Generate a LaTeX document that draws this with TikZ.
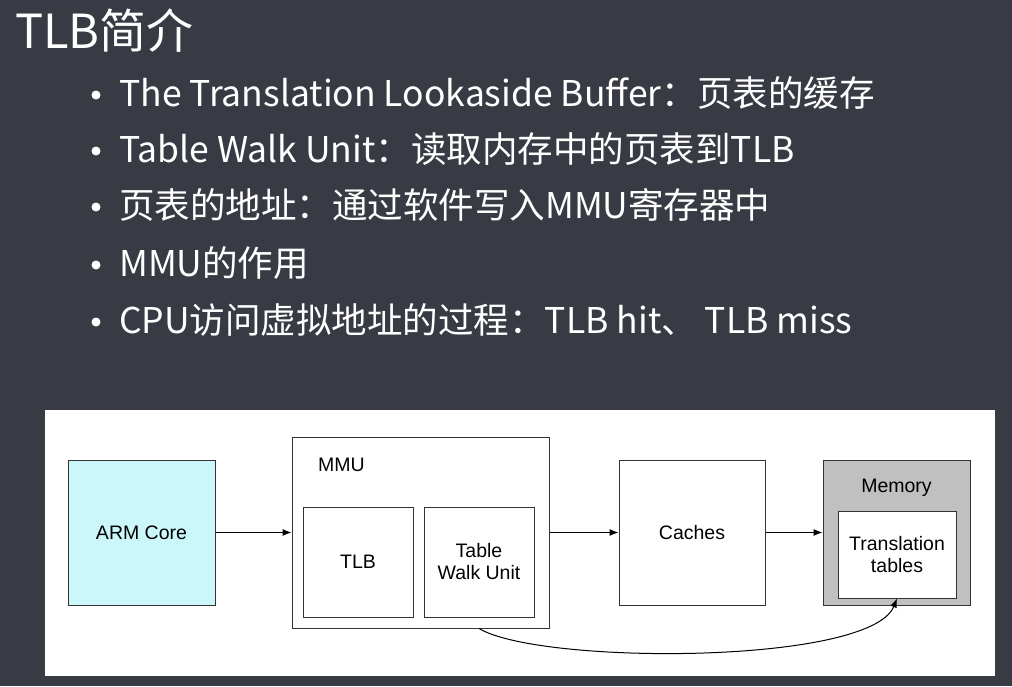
\documentclass[tikz,border=0pt]{standalone}
\usepackage{fontspec}
\setmainfont{Noto Sans CJK SC}
\newfontfamily\diagfont{Liberation Sans}
\usetikzlibrary{positioning,arrows.meta}
\definecolor{slidebg}{HTML}{383B43}
\definecolor{armcyan}{HTML}{CCF7FA}
\definecolor{memgray}{HTML}{C0C0C0}
\begin{document}
\begin{tikzpicture}[x=1pt,y=-1pt,
  bullet/.style={anchor=base west,text=white,font=\fontsize{35.5}{35.5}\selectfont,inner sep=0pt},
  block/.style={draw=black!80,line width=1pt,inner sep=0pt,align=center,font=\diagfont\fontsize{19.5}{22}\selectfont},
  conn/.style={-{Latex[length=9pt,width=7pt]},line width=1pt}]
\useasboundingbox (0,0) rectangle (1012,686);
\fill[slidebg] (0,0) rectangle (1012,686);
% title and bullets
\node[bullet,font=\fontsize{47}{47}\selectfont] (title) at (15,48) {TLB简介};
\foreach \y/\txt [count=\i] in {106/{The Translation Lookaside Buffer：页表的缓存},
  162/{Table Walk Unit：读取内存中的页表到TLB},
  218/{页表的地址：通过软件写入MMU寄存器中},
  276/{MMU的作用},
  333/{CPU访问虚拟地址的过程：TLB hit、 TLB miss}}{
  \fill[white] (96,\y-11) circle (4.5);
  \node[bullet] (item\i) at (119,\y) {\txt};
}
% diagram panel
\fill[white] (45,410) rectangle (995,676);
\node[block,fill=armcyan,minimum width=147,minimum height=145] (arm) at (141.5,532.5) {ARM Core};
\node[block,fill=white,minimum width=257,minimum height=191] (mmu) at (420.5,532.5) {};
\node[anchor=north west,font=\diagfont\fontsize{19.5}{22}\selectfont,inner sep=0pt] (mmulabel) at (318,458) {MMU};
\node[block,minimum width=110,minimum height=110] (tlb) at (358,562) {TLB};
\node[block,minimum width=110,minimum height=110] (twu) at (479,562) {Table\\Walk Unit};
\node[block,fill=white,minimum width=146,minimum height=145] (caches) at (692,532.5) {Caches};
\node[block,fill=memgray,minimum width=147,minimum height=145] (mem) at (896.5,532.5) {};
\node[anchor=north,font=\diagfont\fontsize{19.5}{22}\selectfont,inner sep=0pt] (memlabel) at (896.5,479) {Memory};
\node[block,fill=white,minimum width=118,minimum height=87] (tables) at (897,554.5) {Translation\\tables};
\draw[conn] (arm.east) -- (mmu.west);
\draw[conn] (mmu.east) -- (caches.west);
\draw[conn] (caches.east) -- (mem.west);
\draw[conn] (mmu.south -| twu) .. controls (540,665) and (870,665) .. (tables.south);
\end{tikzpicture}
\end{document}
